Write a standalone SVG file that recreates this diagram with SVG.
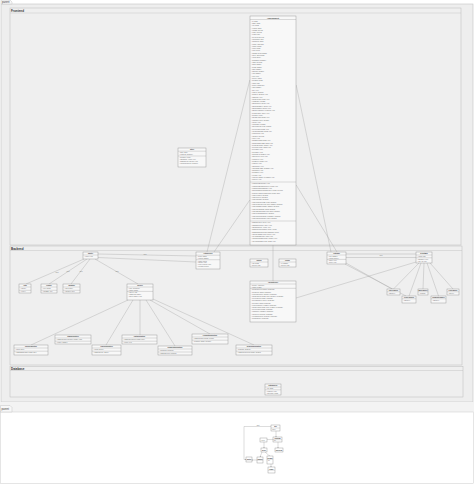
<svg xmlns="http://www.w3.org/2000/svg" width="474" height="484" viewBox="0 0 474 484">
<style>
.frame{fill:#eeeeee;stroke:#c4c4c4;stroke-width:0.6}
.tab{fill:#f8f8f8;stroke:#c4c4c4;stroke-width:0.5}
.pkg{fill:#efefef;stroke:#bbbbbb;stroke-width:0.5}
.hdr{stroke:#bbbbbb;stroke-width:0.4}
.cls{fill:#f8f8f8;stroke:#8a8a8a;stroke-width:0.4}
.box{fill:#ffffff;stroke:#8a8a8a;stroke-width:0.4}
.sep{stroke:#8a8a8a;stroke-width:0.3}
.e{stroke:#9c9c9c;stroke-width:0.35;fill:none}
text{font-family:"Liberation Sans",Arial,sans-serif}
.t{font-size:1.45px;fill:#666}
.n{font-size:1.6px;fill:#333;text-anchor:middle;font-weight:bold}
.pl{font-size:3px;fill:#333;font-weight:bold}
.fl{font-size:2.6px;fill:#333}
.el{font-size:1.4px;fill:#777;text-anchor:middle}
</style>
<defs>
<marker id="arr" viewBox="0 0 6 6" refX="6" refY="3" markerWidth="3" markerHeight="3" orient="auto"><path d="M0,0 L6,3 L0,6 Z" fill="#888"/></marker>
</defs>
<rect x="0" y="0" width="474" height="484" fill="#ffffff"/>
<g id="frame-top">
<rect class="frame" x="1" y="4" width="472" height="398"/>
<path class="tab" d="M1,0 H10 L12,2 V4 H1 Z"/>
<text class="fl" x="2" y="3">parent</text>
</g>
<g id="frame-bottom">
<rect x="0" y="402" width="474" height="10" fill="#f3f3f3"/>
<rect x="0.5" y="412" width="473" height="71.5" fill="#ffffff" stroke="#cccccc" stroke-width="0.5"/>
<path class="tab" d="M0.5,405.5 H10 L12,407.5 V412 H0.5 Z"/>
<text class="fl" x="1.5" y="410.3">parent</text>
</g>
<g id="pkg-frontend">
<rect class="pkg" x="10" y="8" width="451" height="237"/>
<line class="hdr" x1="10" y1="13" x2="461" y2="13"/>
<text class="pl" x="11" y="11.8">Frontend</text>
</g>
<g id="pkg-backend">
<rect class="pkg" x="10" y="246" width="452" height="119"/>
<line class="hdr" x1="10" y1="250.5" x2="462" y2="250.5"/>
<text class="pl" x="11" y="249.5">Backend</text>
</g>
<g id="pkg-database">
<rect class="pkg" x="10" y="366.5" width="453" height="30.5"/>
<line class="hdr" x1="10" y1="370.5" x2="463" y2="370.5"/>
<text class="pl" x="11" y="369.6">Database</text>
</g>
<g id="connectors">
<line class="e" x1="249.8" y1="80" x2="207" y2="252"/>
<line class="e" x1="249.8" y1="200" x2="214" y2="252"/>
<line class="e" x1="296.2" y1="85" x2="331" y2="252"/>
<line class="e" x1="296.2" y1="185" x2="337" y2="252"/>
<line class="e" x1="273" y1="245" x2="273" y2="281"/>
<line class="e" x1="98" y1="254" x2="196" y2="256"/>
<line class="e" x1="98" y1="257.5" x2="196" y2="262"/>
<text class="el" x="145" y="254.7">uses</text>
<line class="e" x1="84" y1="259" x2="26" y2="284"/>
<line class="e" x1="87" y1="259" x2="49" y2="284"/>
<line class="e" x1="90" y1="259" x2="71" y2="284"/>
<line class="e" x1="95" y1="259" x2="138" y2="284"/>
<text class="el" x="57" y="272.5">uses</text>
<text class="el" x="68" y="271.5">uses</text>
<text class="el" x="81" y="271.5">uses</text>
<text class="el" x="117" y="271.5">uses</text>
<line class="e" x1="128" y1="300" x2="31" y2="345"/>
<line class="e" x1="133" y1="300" x2="106" y2="345"/>
<line class="e" x1="140" y1="300" x2="140" y2="335"/>
<line class="e" x1="146" y1="300" x2="175" y2="346"/>
<line class="e" x1="150" y1="300" x2="210" y2="334"/>
<line class="e" x1="153" y1="299" x2="254" y2="345"/>
<line class="e" x1="296" y1="298" x2="416" y2="262"/>
<line class="e" x1="346" y1="254" x2="416" y2="254"/>
<line class="e" x1="346" y1="257.5" x2="416" y2="257.5"/>
<text class="el" x="381" y="256.3">uses</text>
<line class="e" x1="419" y1="263" x2="393.5" y2="289"/>
<line class="e" x1="421" y1="263" x2="409" y2="296"/>
<line class="e" x1="424" y1="263" x2="423" y2="289"/>
<line class="e" x1="427" y1="263" x2="438.5" y2="296"/>
<line class="e" x1="430" y1="263" x2="453" y2="289"/>
<line class="e" x1="346" y1="263" x2="392" y2="289"/>
<line class="e" x1="345" y1="264" x2="406" y2="296"/>
<path class="e" d="M271,426.5 H244 V459.5 H246" marker-end="url(#arr)"/>
<text class="el" x="258" y="425.8">start</text>
<line class="e" x1="276" y1="431" x2="276" y2="437" marker-end="url(#arr)"/>
<line class="e" x1="273" y1="439.5" x2="267" y2="439.5"/>
<line class="e" x1="264" y1="442" x2="264" y2="448" marker-end="url(#arr)"/>
<line class="e" x1="278" y1="442" x2="278" y2="448" marker-end="url(#arr)"/>
<line class="e" x1="262" y1="452" x2="260" y2="457" marker-end="url(#arr)"/>
<line class="e" x1="265" y1="452" x2="269.5" y2="456" marker-end="url(#arr)"/>
<line class="e" x1="271" y1="464" x2="271" y2="467" marker-end="url(#arr)"/>
<line class="e" x1="257" y1="460" x2="252" y2="460" marker-end="url(#arr)"/>
</g>
<g id="c-app">
<rect class="cls" x="250" y="16" width="46" height="229"/>
<text class="n" x="273" y="18.5">AppComponent</text>
<line class="sep" x1="250" y1="19.5" x2="296" y2="19.5"/>
<text class="t" x="251" y="21.6"><tspan x="251">+ id: string</tspan><tspan x="251" dy="2.3">+ name: string</tspan><tspan x="251" dy="2.3">+ title: string</tspan><tspan x="251" dy="2.3">+ version: string</tspan><tspan x="251" dy="2.3">+ loading: boolean</tspan><tspan x="251" dy="2.3">+ ready: boolean</tspan><tspan x="251" dy="2.3">+ items: Item[]</tspan><tspan x="251" dy="2.3">+ selectedItem: Item</tspan><tspan x="251" dy="2.3">+ currentUser: User</tspan><tspan x="251" dy="2.3">+ authToken: string</tspan><tspan x="251" dy="2.3">+ config: AppConfig</tspan><tspan x="251" dy="2.3">+ theme: Theme</tspan><tspan x="251" dy="2.3">+ locale: string</tspan><tspan x="251" dy="2.3">+ route: Route</tspan><tspan x="251" dy="2.3">+ params: RouteParams</tspan><tspan x="251" dy="2.3">+ query: QueryString</tspan><tspan x="251" dy="2.3">+ errors: Error[]</tspan><tspan x="251" dy="2.3">+ messages: Message[]</tspan><tspan x="251" dy="2.3">+ visible: boolean</tspan><tspan x="251" dy="2.3">+ width: number</tspan><tspan x="251" dy="2.3">+ height: number</tspan><tspan x="251" dy="2.3">+ page: number</tspan><tspan x="251" dy="2.3">+ pageSize: number</tspan><tspan x="251" dy="2.3">+ total: number</tspan><tspan x="251" dy="2.3">+ filter: Filter</tspan><tspan x="251" dy="2.3">+ sortKey: string</tspan><tspan x="251" dy="2.3">+ sortOrder: string</tspan><tspan x="251" dy="2.3">+ cache: Map</tspan><tspan x="251" dy="2.3">+ socket: WebSocket</tspan><tspan x="251" dy="2.3">+ timer: number</tspan><tspan x="251" dy="2.3">+ init(): void</tspan><tspan x="251" dy="2.3">+ render(): Element</tspan><tspan x="251" dy="2.3">+ mount(el: Element): void</tspan><tspan x="251" dy="2.3">+ unmount(): void</tspan><tspan x="251" dy="2.3">+ update(props: Props): void</tspan><tspan x="251" dy="2.3">+ fetchData(): Promise</tspan><tspan x="251" dy="2.3">+ handleClick(e: Event): void</tspan><tspan x="251" dy="2.3">+ handleChange(e: Event): void</tspan><tspan x="251" dy="2.3">+ handleSubmit(e: Event): void</tspan><tspan x="251" dy="2.3">+ handleKeyDown(e: KeyEvent): void</tspan><tspan x="251" dy="2.3">+ setState(state: State): void</tspan><tspan x="251" dy="2.3">+ getState(): State</tspan><tspan x="251" dy="2.3">+ navigate(path: string): void</tspan><tspan x="251" dy="2.3">+ login(user: User): Promise</tspan><tspan x="251" dy="2.3">+ logout(): void</tspan><tspan x="251" dy="2.3">+ loadItems(): Promise</tspan><tspan x="251" dy="2.3">+ saveItem(item: Item): Promise</tspan><tspan x="251" dy="2.3">+ deleteItem(id: string): void</tspan><tspan x="251" dy="2.3">+ openModal(name: string): void</tspan><tspan x="251" dy="2.3">+ closeModal(): void</tspan><tspan x="251" dy="2.3">+ validate(): boolean</tspan><tspan x="251" dy="2.3">+ reset(): void</tspan><tspan x="251" dy="2.3">+ showError(msg: string): void</tspan><tspan x="251" dy="2.3">+ showMessage(msg: string): void</tspan><tspan x="251" dy="2.3">+ setTheme(theme: Theme): void</tspan><tspan x="251" dy="2.3">+ setLocale(locale: string): void</tspan><tspan x="251" dy="2.3">+ nextPage(): void</tspan><tspan x="251" dy="2.3">+ prevPage(): void</tspan><tspan x="251" dy="2.3">+ goToPage(n: number): void</tspan><tspan x="251" dy="2.3">+ applyFilter(f: Filter): void</tspan><tspan x="251" dy="2.3">+ clearFilter(): void</tspan><tspan x="251" dy="2.3">+ sortBy(key: string): void</tspan><tspan x="251" dy="2.3">+ connect(): void</tspan><tspan x="251" dy="2.3">+ disconnect(): void</tspan><tspan x="251" dy="2.3">+ onMessage(msg: Message): void</tspan><tspan x="251" dy="2.3">+ startTimer(): void</tspan><tspan x="251" dy="2.3">+ stopTimer(): void</tspan><tspan x="251" dy="2.3">+ refresh(): void</tspan><tspan x="251" dy="2.3">+ resize(w: number, h: number): void</tspan><tspan x="251" dy="2.3">+ destroy(): void</tspan></text>
<line class="sep" x1="250" y1="182" x2="296" y2="182"/>
<text class="t" x="251" y="184.3"><tspan x="251">+ componentDidMount(): void</tspan><tspan x="251" dy="2.3">+ componentDidUpdate(prev: Props): void</tspan><tspan x="251" dy="2.3">+ componentWillUnmount(): void</tspan><tspan x="251" dy="2.3">+ shouldComponentUpdate(next: Props): boolean</tspan><tspan x="251" dy="2.3">+ getDerivedStateFromProps(p: Props): State</tspan><tspan x="251" dy="2.3">+ renderHeader(): Element</tspan><tspan x="251" dy="2.3">+ renderFooter(): Element</tspan><tspan x="251" dy="2.3">+ renderSidebar(): Element</tspan><tspan x="251" dy="2.3">+ renderContent(items: Item[]): Element</tspan><tspan x="251" dy="2.3">+ renderItem(item: Item, index: number): Element</tspan><tspan x="251" dy="2.3">+ renderPagination(page: number): Element</tspan><tspan x="251" dy="2.3">+ renderModal(name: string): Element</tspan><tspan x="251" dy="2.3">+ renderErrorBoundary(error: Error): Element</tspan><tspan x="251" dy="2.3">+ renderLoadingIndicator(): Element</tspan><tspan x="251" dy="2.3">+ renderNotifications(list: Message[]): Element</tspan><tspan x="251" dy="2.3">+ renderUserMenu(user: User): Element</tspan></text>
<line class="sep" x1="250" y1="221" x2="296" y2="221"/>
<text class="t" x="251" y="223.3"><tspan x="251">+ subscribe(store: Store): void</tspan><tspan x="251" dy="2.3">+ unsubscribe(store: Store): void</tspan><tspan x="251" dy="2.3">+ dispatch(action: Action): void</tspan><tspan x="251" dy="2.3">+ mapStateToProps(state: State): Props</tspan><tspan x="251" dy="2.3">+ mapDispatchToProps(d: Dispatch): Props</tspan><tspan x="251" dy="2.3">+ onRouteChange(route: Route): void</tspan><tspan x="251" dy="2.3">+ onAuthChange(user: User): void</tspan><tspan x="251" dy="2.3">+ onThemeChange(theme: Theme): void</tspan><tspan x="251" dy="2.3">+ onLocaleChange(locale: string): void</tspan></text>
</g>
<g id="c-store">
<rect class="cls" x="178" y="148" width="28" height="19"/>
<text class="n" x="192" y="150.2">Store</text>
<line class="sep" x1="178" y1="151.2" x2="206" y2="151.2"/>
<text class="t" x="179" y="153"><tspan x="179">+ state: State</tspan><tspan x="179" dy="2">+ reducers: Reducer[]</tspan></text>
<line class="sep" x1="178" y1="156" x2="206" y2="156"/>
<text class="t" x="179" y="157.8"><tspan x="179">+ getState(): State</tspan><tspan x="179" dy="2">+ dispatch(a: Action): void</tspan><tspan x="179" dy="2">+ subscribe(fn: Listener): void</tspan><tspan x="179" dy="2">+ replaceReducer(r: Reducer)</tspan></text>
</g>
<g id="c-router">
<rect class="cls" x="83" y="252" width="15" height="7"/>
<text class="n" x="90.5" y="254.2">Router</text>
<line class="sep" x1="83" y1="255" x2="98" y2="255"/>
<text class="t" x="84" y="257.3">+ route(): void</text>
</g>
<g id="c-auth">
<rect class="cls" x="19" y="284" width="12" height="9"/>
<text class="n" x="25" y="286">Auth</text>
<line class="sep" x1="19" y1="287" x2="31" y2="287"/>
<text class="t" x="20" y="289">+ check()</text>
<line class="sep" x1="19" y1="290.3" x2="31" y2="290.3"/>
<text class="t" x="20" y="292.2">+ verify()</text>
</g>
<g id="c-logger">
<rect class="cls" x="41" y="284" width="16" height="9"/>
<text class="n" x="49" y="286">Logger</text>
<line class="sep" x1="41" y1="287" x2="57" y2="287"/>
<text class="t" x="42" y="289">+ level: string</text>
<line class="sep" x1="41" y1="290.3" x2="57" y2="290.3"/>
<text class="t" x="42" y="292.2">+ log(msg): void</text>
</g>
<g id="c-validator">
<rect class="cls" x="63" y="284" width="17" height="9"/>
<text class="n" x="71.5" y="286">Validator</text>
<line class="sep" x1="63" y1="287" x2="80" y2="287"/>
<text class="t" x="64" y="289">+ rules: Rule[]</text>
<line class="sep" x1="63" y1="290.3" x2="80" y2="290.3"/>
<text class="t" x="64" y="292.2">+ validate(): bool</text>
</g>
<g id="c-service">
<rect class="cls" x="127" y="284" width="26" height="16"/>
<text class="n" x="140" y="286">Service</text>
<line class="sep" x1="127" y1="287" x2="153" y2="287"/>
<text class="t" x="128" y="288.8"><tspan x="128">+ repo: Repository</tspan><tspan x="128" dy="1.9">+ cache: Cache</tspan></text>
<line class="sep" x1="127" y1="291.4" x2="153" y2="291.4"/>
<text class="t" x="128" y="293.2"><tspan x="128">+ findAll(): List</tspan><tspan x="128" dy="1.9">+ findById(id): Entity</tspan><tspan x="128" dy="1.9">+ save(e: Entity): void</tspan></text>
</g>
<g id="c-d1">
<rect class="cls" x="14" y="345" width="34" height="10"/>
<text class="n" x="31" y="347">UserRepository</text>
<line class="sep" x1="14" y1="348" x2="48" y2="348"/>
<text class="t" x="15" y="350">+ users: User[]</text>
<line class="sep" x1="14" y1="351.2" x2="48" y2="351.2"/>
<text class="t" x="15" y="353.2">+ findByEmail(email: string): User</text>
</g>
<g id="c-d2">
<rect class="cls" x="55" y="335" width="36" height="9"/>
<text class="n" x="73" y="337">ItemRepository</text>
<line class="sep" x1="55" y1="338" x2="91" y2="338"/>
<text class="t" x="56" y="340">+ findByCategory(category: string): Item[]</text>
<line class="sep" x1="55" y1="341.2" x2="91" y2="341.2"/>
<text class="t" x="56" y="343.2">+ count(): number</text>
</g>
<g id="c-d3">
<rect class="cls" x="92" y="345" width="29" height="10"/>
<text class="n" x="106.5" y="347">OrderRepository</text>
<line class="sep" x1="92" y1="348" x2="121" y2="348"/>
<text class="t" x="93" y="350">+ orders: Order[]</text>
<line class="sep" x1="92" y1="351.2" x2="121" y2="351.2"/>
<text class="t" x="93" y="353.2">+ findByUser(id): Order[]</text>
</g>
<g id="c-d4">
<rect class="cls" x="122" y="335" width="35" height="9"/>
<text class="n" x="139.5" y="337">CartRepository</text>
<line class="sep" x1="122" y1="338" x2="157" y2="338"/>
<text class="t" x="123" y="340">+ findByUser(userId: string): Cart[]</text>
<line class="sep" x1="122" y1="341.2" x2="157" y2="341.2"/>
<text class="t" x="123" y="343.2">+ clear(): void</text>
</g>
<g id="c-d5">
<rect class="cls" x="158" y="346" width="34" height="9"/>
<text class="n" x="175" y="348">PaymentRepository</text>
<line class="sep" x1="158" y1="349" x2="192" y2="349"/>
<text class="t" x="159" y="351">+ payments: Payment[]</text>
<line class="sep" x1="158" y1="352" x2="192" y2="352"/>
<text class="t" x="159" y="354">+ findByOrder(id): Payment</text>
</g>
<g id="c-d6">
<rect class="cls" x="192" y="334" width="36" height="10"/>
<text class="n" x="210" y="336">ProductRepository</text>
<line class="sep" x1="192" y1="337" x2="228" y2="337"/>
<text class="t" x="193" y="339">+ findBySku(sku: string): Product</text>
<line class="sep" x1="192" y1="340.2" x2="228" y2="340.2"/>
<text class="t" x="193" y="342.2">+ search(q: string): Product[]</text>
</g>
<g id="c-d7">
<rect class="cls" x="236" y="345" width="36" height="10"/>
<text class="n" x="254" y="347">SessionRepository</text>
<line class="sep" x1="236" y1="348" x2="272" y2="348"/>
<text class="t" x="237" y="350">+ sessions: Session[]</text>
<line class="sep" x1="236" y1="351.2" x2="272" y2="351.2"/>
<text class="t" x="237" y="353.2">+ findByToken(token: string): Session</text>
</g>
<g id="c-authservice">
<rect class="cls" x="196" y="252" width="24" height="17"/>
<text class="n" x="208" y="254.2">AuthService</text>
<line class="sep" x1="196" y1="255.2" x2="220" y2="255.2"/>
<text class="t" x="197" y="257"><tspan x="197">+ secret: string</tspan><tspan x="197" dy="1.9">+ expires: number</tspan></text>
<line class="sep" x1="196" y1="259.7" x2="220" y2="259.7"/>
<text class="t" x="197" y="261.5"><tspan x="197">+ login(): Token</tspan><tspan x="197" dy="1.9">+ logout(): void</tspan><tspan x="197" dy="1.9">+ verify(t: Token): bool</tspan><tspan x="197" dy="1.9">+ refresh(t: Token)</tspan></text>
</g>
<g id="c-config">
<rect class="cls" x="250" y="259" width="18" height="8"/>
<text class="n" x="259" y="261">Config</text>
<line class="sep" x1="250" y1="262" x2="268" y2="262"/>
<text class="t" x="251" y="264">+ env: string</text>
<text class="t" x="251" y="265.9">+ get(key): any</text>
</g>
<g id="c-cache">
<rect class="cls" x="279" y="259" width="17" height="8"/>
<text class="n" x="287.5" y="261">Cache</text>
<line class="sep" x1="279" y1="262" x2="296" y2="262"/>
<text class="t" x="280" y="264">+ ttl: number</text>
<text class="t" x="280" y="265.9">+ get(key): any</text>
</g>
<g id="c-api">
<rect class="cls" x="250" y="281" width="46" height="41"/>
<text class="n" x="273" y="283">ApiController</text>
<line class="sep" x1="250" y1="284" x2="296" y2="284"/>
<text class="t" x="251" y="285.8"><tspan x="251">+ service: ApiService</tspan><tspan x="251" dy="1.8">+ logger: Logger</tspan></text>
<line class="sep" x1="250" y1="288.3" x2="296" y2="288.3"/>
<text class="t" x="251" y="290.4"><tspan x="251">+ getUsers(req: Request): Response</tspan><tspan x="251" dy="2.2">+ getUser(id: string): Response</tspan><tspan x="251" dy="2.2">+ createUser(body: UserDto): Response</tspan><tspan x="251" dy="2.2">+ updateUser(id: string, body: UserDto): Response</tspan><tspan x="251" dy="2.2">+ deleteUser(id: string): Response</tspan><tspan x="251" dy="2.2">+ getItems(query: Query): Response</tspan><tspan x="251" dy="2.2">+ getItem(id: string): Response</tspan><tspan x="251" dy="2.2">+ createItem(body: ItemDto): Response</tspan><tspan x="251" dy="2.2">+ updateItem(id: string, body: ItemDto): Response</tspan><tspan x="251" dy="2.2">+ deleteItem(id: string): Response</tspan><tspan x="251" dy="2.2">+ login(body: LoginDto): Response</tspan><tspan x="251" dy="2.2">+ logout(req: Request): Response</tspan><tspan x="251" dy="2.2">+ refreshToken(req: Request): Response</tspan><tspan x="251" dy="2.2">+ healthCheck(): Response</tspan></text>
</g>
<g id="c-gateway">
<rect class="cls" x="327" y="252" width="19" height="12"/>
<text class="n" x="336.5" y="254">Gateway</text>
<line class="sep" x1="327" y1="255" x2="346" y2="255"/>
<text class="t" x="328" y="256.8"><tspan x="328">+ port: number</tspan><tspan x="328" dy="1.9">+ routes: Route[]</tspan></text>
<line class="sep" x1="327" y1="259.4" x2="346" y2="259.4"/>
<text class="t" x="328" y="261.2"><tspan x="328">+ start(): void</tspan><tspan x="328" dy="1.9">+ stop(): void</tspan></text>
</g>
<g id="c-eventbus">
<rect class="cls" x="416" y="252" width="16" height="11"/>
<text class="n" x="424" y="254">EventBus</text>
<line class="sep" x1="416" y1="255" x2="432" y2="255"/>
<text class="t" x="417" y="256.8">+ topics: Map</text>
<line class="sep" x1="416" y1="257.8" x2="432" y2="257.8"/>
<text class="t" x="417" y="259.6"><tspan x="417">+ publish(e): void</tspan><tspan x="417" dy="1.9">+ on(t, fn): void</tspan></text>
</g>
<g id="c-h1">
<rect class="cls" x="387" y="289" width="13" height="6"/>
<text class="n" x="393.5" y="291">UserHandler</text>
<line class="sep" x1="387" y1="291.8" x2="400" y2="291.8"/>
<text class="t" x="388" y="293.8">+ handle(e)</text>
</g>
<g id="c-h2">
<rect class="cls" x="402" y="296" width="14" height="7"/>
<text class="n" x="409" y="298">OrderHandler</text>
<line class="sep" x1="402" y1="298.8" x2="416" y2="298.8"/>
<text class="t" x="403" y="300.8">+ handle(e)</text>
</g>
<g id="c-h3">
<rect class="cls" x="418" y="289" width="10" height="6"/>
<text class="n" x="423" y="291">MailHandler</text>
<line class="sep" x1="418" y1="291.8" x2="428" y2="291.8"/>
<text class="t" x="419" y="293.8">+ send(m)</text>
</g>
<g id="c-h4">
<rect class="cls" x="431" y="296" width="15" height="7"/>
<text class="n" x="438.5" y="298">PaymentHandler</text>
<line class="sep" x1="431" y1="298.8" x2="446" y2="298.8"/>
<text class="t" x="432" y="300.8">+ handle(e)</text>
</g>
<g id="c-h5">
<rect class="cls" x="447" y="289" width="12" height="6"/>
<text class="n" x="453" y="291">LogHandler</text>
<line class="sep" x1="447" y1="291.8" x2="459" y2="291.8"/>
<text class="t" x="448" y="293.8">+ write(e)</text>
</g>
<g id="c-db">
<rect class="cls" x="265" y="384" width="16" height="11"/>
<text class="n" x="273" y="386">DataSource</text>
<line class="sep" x1="265" y1="387" x2="281" y2="387"/>
<text class="t" x="266" y="388.8">+ url: string</text>
<line class="sep" x1="265" y1="389.8" x2="281" y2="389.8"/>
<text class="t" x="266" y="391.6"><tspan x="266">+ connect(): void</tspan><tspan x="266" dy="1.9">+ query(sql): Rows</tspan></text>
</g>
<g id="s-idle"><rect class="box" x="271" y="425" width="9" height="6"/><text class="n" x="275.5" y="427.3">Idle</text><line class="sep" x1="271" y1="428" x2="280" y2="428"/><text class="t" x="272" y="430">entry/</text></g>
<g id="s-loading"><rect class="box" x="273" y="437" width="9" height="5"/><text class="n" x="277.5" y="439">Loading</text><line class="sep" x1="273" y1="439.7" x2="282" y2="439.7"/><text class="t" x="274" y="441.4">do/</text></g>
<g id="s-choice"><rect class="box" x="260" y="438" width="7" height="4"/><text class="t" x="261" y="440.6">[error]</text></g>
<g id="s-error"><rect class="box" x="261" y="448" width="6" height="4"/><text class="n" x="264" y="450.5">Error</text></g>
<g id="s-success"><rect class="box" x="275" y="448" width="8" height="4"/><text class="n" x="279" y="450.5">Success</text></g>
<g id="s-retry"><rect class="box" x="246" y="457" width="6" height="5"/><text class="n" x="249" y="459.5">Retry</text><line class="sep" x1="246" y1="460" x2="252" y2="460"/></g>
<g id="s-cancel"><rect class="box" x="257" y="457" width="6" height="6"/><text class="n" x="260" y="459.5">Cancel</text><line class="sep" x1="257" y1="460.2" x2="263" y2="460.2"/></g>
<g id="s-ready"><rect class="box" x="267" y="456" width="6" height="8"/><text class="n" x="270" y="458.5">Ready</text><line class="sep" x1="267" y1="459.2" x2="273" y2="459.2"/><text class="t" x="268" y="461.2">do/</text></g>
<g id="s-done"><rect class="box" x="268" y="467" width="7" height="6"/><text class="n" x="271.5" y="469.5">Done</text><line class="sep" x1="268" y1="470.2" x2="275" y2="470.2"/></g>
</svg>
